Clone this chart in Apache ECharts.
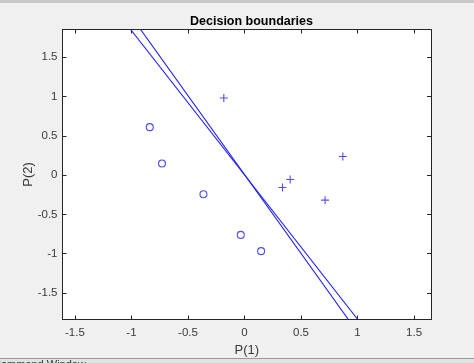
<!DOCTYPE html>
<html>
<head>
<meta charset="utf-8">
<script src="https://cdn.jsdelivr.net/npm/echarts@6/dist/echarts.min.js"></script>
<style>
html,body{margin:0;padding:0;background:#f0f0f0;}
#c{width:474px;height:363px;}
</style>
</head>
<body>
<div id="c"></div>
<script>
// ---- data ----
var titleText = 'Decision boundaries';
var xName = 'P(1)';
var yName = 'P(2)';
var xTicks = [-1.5, -1, -0.5, 0, 0.5, 1, 1.5];
var yTicks = [-1.5, -1, -0.5, 0, 0.5, 1, 1.5];
var xRange = [-1.61, 1.65];
var yRange = [-1.837, 1.854];
var classO = [[-0.838, 0.611], [-0.73, 0.149], [-0.363, -0.242], [-0.033, -0.76], [0.147, -0.967]];
var classPlus = [[-0.183, 0.983], [0.87, 0.238], [0.404, -0.055], [0.336, -0.157], [0.713, -0.318]];
var boundaryA = [[-1.007, 1.854], [1.002, -1.837]];
var boundaryB = [[-0.919, 1.854], [0.919, -1.837]];

var blue = '#2222ee';
var axisCol = '#262626';
var labelCol = '#3a3a3a';
var font = 'Liberation Sans, Arial, sans-serif';

function mkX(pos, labels) {
  return {
    type: 'value', position: pos, min: xRange[0], max: xRange[1],
    name: labels ? xName : '', nameLocation: 'middle', nameGap: 24, nameMoveOverlap: false,
    nameTextStyle: {fontSize: 13, color: labelCol, fontFamily: font},
    axisLine: {show: true, onZero: false, lineStyle: {color: axisCol, width: 1}},
    axisTick: {show: true, inside: true, length: 4, customValues: xTicks, lineStyle: {color: axisCol}},
    axisLabel: {show: labels, customValues: xTicks, margin: 7, fontSize: 11.5, color: labelCol, fontFamily: font},
    splitLine: {show: false}
  };
}
function mkY(pos, labels) {
  return {
    type: 'value', position: pos, min: yRange[0], max: yRange[1],
    name: labels ? yName : '', nameLocation: 'middle', nameGap: 28, nameRotate: 90, nameMoveOverlap: false,
    nameTextStyle: {fontSize: 13, color: labelCol, fontFamily: font},
    axisLine: {show: true, onZero: false, lineStyle: {color: axisCol, width: 1}},
    axisTick: {show: true, inside: true, length: 4, customValues: yTicks, lineStyle: {color: axisCol}},
    axisLabel: {show: labels, customValues: yTicks, margin: 5, fontSize: 11.5, color: labelCol, fontFamily: font},
    splitLine: {show: false}
  };
}

var chart = echarts.init(document.getElementById('c'), null, {renderer: 'canvas'});
chart.setOption({
  animation: false,
  backgroundColor: '#f0f0f0',
  title: {
    text: titleText, left: 246.5, top: 10, textAlign: 'center',
    textStyle: {fontSize: 12.5, fontWeight: 'bold', color: '#000', fontFamily: font}
  },
  grid: {left: 62.5, right: 43, top: 29.5, bottom: 43.5, show: true, backgroundColor: '#ffffff', borderWidth: 0},
  xAxis: [mkX('bottom', true), mkX('top', false)],
  yAxis: [mkY('left', true), mkY('right', false)],
  graphic: [
    {type: 'rect', shape: {x: 0, y: 0, width: 474, height: 3}, style: {fill: '#c8c8c8'}},
    {type: 'rect', shape: {x: 0, y: 358, width: 474, height: 5}, style: {fill: '#e2e2e2'}},
    {type: 'rect', shape: {x: 0, y: 358, width: 474, height: 1}, style: {fill: '#9a9a9a'}},
    {type: 'text', x: -7, y: 359, style: {text: 'Command Window', fontSize: 11, fill: '#333', fontFamily: font, textVerticalAlign: 'top'}}
  ],
  series: [
    {type: 'line', data: boundaryA, showSymbol: false, symbol: 'none', clip: true,
     lineStyle: {color: blue, width: 1.2}},
    {type: 'line', data: boundaryB, showSymbol: false, symbol: 'none', clip: true,
     lineStyle: {color: blue, width: 1.2}},
    {type: 'scatter', data: classO, symbol: 'circle', symbolSize: 7,
     itemStyle: {color: 'rgba(0,0,0,0)', borderColor: blue, borderWidth: 1.1}},
    {type: 'scatter', data: classPlus, symbol: 'path://M0,5L10,5M5,0L5,10', symbolSize: 8,
     itemStyle: {color: 'rgba(0,0,0,0)', borderColor: blue, borderWidth: 1.1}}
  ]
});
</script>
</body>
</html>
